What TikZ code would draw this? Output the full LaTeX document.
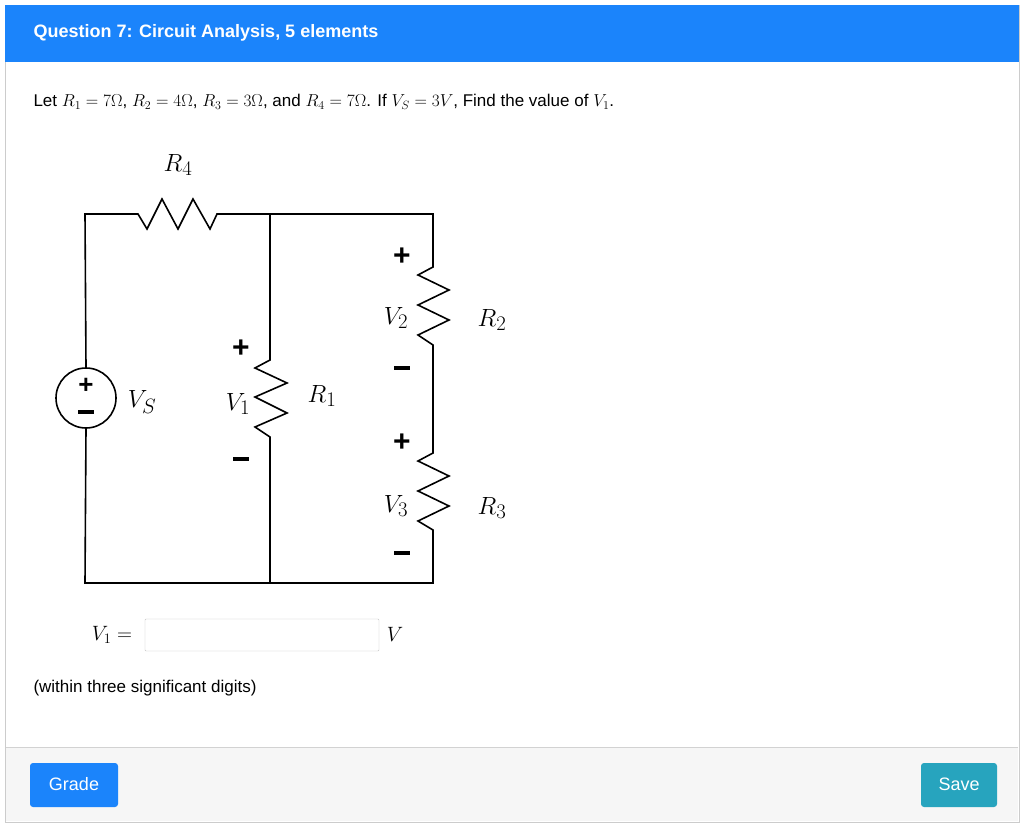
\documentclass[tikz,border=0pt]{standalone}
\usepackage{fontspec}
\setmainfont{Liberation Sans}
\begin{document}
\begin{tikzpicture}[x=1pt,y=-1pt,
  wire/.style={line width=1.6pt,line join=miter},
  lbl/.style={font=\fontsize{30}{30}\selectfont},
  sgn/.style={font=\fontsize{30}{30}\selectfont\bfseries},
  txt/.style={font=\fontsize{17}{20}\selectfont,anchor=west},
  btn/.style={rounded corners=3pt,text=white,font=\fontsize{18}{20}\selectfont}]
\definecolor{hdr}{HTML}{1B84FB}
\definecolor{savec}{HTML}{27A4BE}
\useasboundingbox (0,0) rectangle (1024,826);
\fill[white] (0,0) rectangle (1024,826);
\draw[gray!40] (5,5) rectangle (1019,822);
\fill[hdr] (5,5) rectangle (1019,62);
\node[txt,text=white,font=\fontsize{18}{20}\selectfont\bfseries] (title) at (30,33) {Question 7: Circuit Analysis, 5 elements};
\fill[gray!7] (6,747) rectangle (1018,821);
\draw[gray!35] (6,747) -- (1018,747);
\node[txt] (q) at (30,102) {Let $R_1=7\Omega$, $R_2=4\Omega$, $R_3=3\Omega$, and $R_4=7\Omega$. If $V_S=3V$, Find the value of $V_1$.};
% circuit
\coordinate (tl) at (85,214); \coordinate (tm) at (270,214); \coordinate (tr) at (433,214);
\coordinate (bl) at (85,583); \coordinate (bm) at (270,583); \coordinate (br) at (433,583);
\node[draw,circle,line width=1.6pt,minimum size=60pt,inner sep=0] (src) at (86,398) {};
\node[font=\fontsize{26}{26}\selectfont\bfseries] (sp) at (86,386) {+};
\fill (78,410) rectangle (94,413.5);
\draw[wire] (src.north) -- (tl) -- (138,214) -- (147,229) -- (162,199) -- (178,229) -- (193,199) -- (210,229) -- (217,214) -- (tm) -- (tr)
  -- (433,267) -- (418,275) -- (449,290) -- (418,305) -- (449,320) -- (418,335) -- (433,345)
  -- (433,453) -- (418,461) -- (449,476) -- (418,491) -- (449,506) -- (418,521) -- (433,530)
  -- (br) -- (bl) -- (src.south);
\draw[wire] (tm) -- (270,360) -- (255,368) -- (287,383) -- (255,397) -- (287,413) -- (255,427) -- (270,437) -- (bm);
\node[lbl] (r4) at (178,165) {$R_4$};
\node[lbl] (vs) at (142,402) {$V_S$};
\node[lbl] (v1) at (238,404) {$V_1$};
\node[lbl] (r1) at (322,396) {$R_1$};
\node[lbl] (v2) at (396,318) {$V_2$};
\node[lbl] (r2) at (492,320) {$R_2$};
\node[lbl] (v3) at (396,506) {$V_3$};
\node[lbl] (r3) at (492,508) {$R_3$};
\node[sgn] (p1) at (241,349) {+};
\node[sgn] (p2) at (402,257) {+};
\node[sgn] (p3) at (402,443) {+};
\fill (233,457) rectangle (249,461);
\fill (394,366) rectangle (410,370);
\fill (394,551) rectangle (410,555);
% answer
\node[font=\fontsize{20}{20}\selectfont] (v1eq) at (112,635) {$V_1=$};
\draw[gray!45,rounded corners=1pt] (145,619) rectangle (379,651);
\node[font=\fontsize{20}{20}\selectfont] (unit) at (395,634) {$V$};
\node[txt] (note) at (30,688) {(within three significant digits)};
\fill[hdr,rounded corners=3pt] (30,763) rectangle (118,807);
\node[btn] (grade) at (74,784) {Grade};
\fill[savec,rounded corners=3pt] (921,763) rectangle (997,807);
\node[btn] (save) at (959,784) {Save};
\end{tikzpicture}
\end{document}
